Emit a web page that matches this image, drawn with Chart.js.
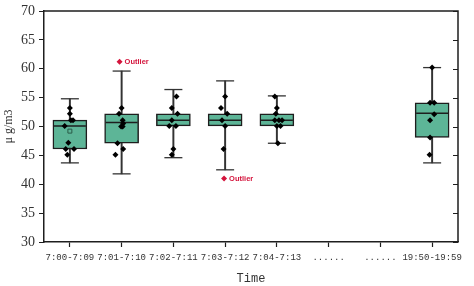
<!DOCTYPE html>
<html>
<head>
<meta charset="utf-8">
<script src="https://cdn.jsdelivr.net/npm/chart.js@4"></script>
<style>
  html, body { margin: 0; padding: 0; background: #fff; }
  #wrap { width: 474px; height: 286px; }
</style>
</head>
<body>
<div id="wrap"><canvas id="chart"></canvas></div>
<script>
// Box plot of concentration per time window
const categories = ['7:00-7:09', '7:01-7:10', '7:02-7:11', '7:03-7:12', '7:04-7:13', '......', '......', '19:50-19:59'];
const whiskerLow  = [43.7, 41.8, 44.6, 42.5, 47.1, null, null, 43.7];
const q1          = [46.1, 47.1, 50.1, 50.1, 50.1, null, null, 48.1];
const medians     = [50.1, 50.7, 51.1, 51.1, 51.1, null, null, 52.3];
const q3          = [51.1, 52.2, 52.2, 52.2, 52.2, null, null, 54.1];
const whiskerHigh = [54.8, 59.6, 56.4, 57.9, 55.3, null, null, 60.2];
const means       = [49.2, null, null, null, null, null, null, null];

// raw samples per window: [x jitter in category units, value]
const samples = [
    [[0, 53.2], [0, 52.2], [0.02, 51.1], [0.06, 51.1], [-0.1, 50.1], [-0.03, 47.2], [-0.08, 46.1], [0.08, 46.1], [-0.05, 45.1]],
    [[0, 53.2], [-0.05, 52.2], [0.02, 51.1], [0.03, 50.5], [0.02, 50.0], [-0.01, 50.0], [-0.08, 47.1], [0.03, 46.1], [-0.12, 45.1]],
    [[0.06, 55.2], [-0.03, 53.2], [0.08, 52.2], [-0.03, 51.1], [-0.08, 50.1], [0.05, 50.1], [0, 46.1], [-0.03, 45.1]],
    [[0, 55.2], [-0.08, 53.2], [0.04, 52.2], [-0.06, 51.1], [0, 50.1], [-0.03, 46.1]],
    [[-0.04, 55.2], [0, 53.2], [-0.02, 52.2], [-0.04, 51.1], [0.04, 51.1], [0.1, 51.1], [0, 50.1], [0.07, 50.1], [0.02, 47.1]],
    [],
    [],
    [[0, 60.2], [-0.04, 54.1], [0.04, 54.1], [0.04, 52.1], [-0.04, 51.1], [-0.04, 48.1], [-0.05, 45.1]],
];
const outliers = [[1, -0.04, 61.2], [3, -0.02, 41.0]];
const outlierLabel = 'Outlier';

const boxColor = '#5DB597';
const ink = '#1e1e1e';
const red = '#d4143c';

const idx = categories.map((_, i) => i).filter(i => q1[i] !== null);

const framePlugin = {
    id: 'frame',
    afterDraw(chart) {
        const { ctx, chartArea: a, scales } = chart;
        const y = scales.y;
        ctx.save();
        ctx.strokeStyle = ink;
        ctx.lineWidth = 1.5;
        ctx.beginPath();
        ctx.moveTo(a.left, a.top);
        ctx.lineTo(a.right, a.top);
        ctx.lineTo(a.right, a.bottom);
        ctx.stroke();
        // inward ticks on the right edge
        ctx.lineWidth = 1;
        ctx.beginPath();
        y.ticks.forEach(t => {
            const py = Math.round(y.getPixelForValue(t.value)) + 0.5;
            ctx.moveTo(a.right, py);
            ctx.lineTo(a.right - (t.value % 5 === 0 ? 5 : 3), py);
        });
        ctx.stroke();
        // outlier labels
        ctx.fillStyle = red;
        ctx.font = 'bold 7.5px "Liberation Sans", Arial, sans-serif';
        ctx.textBaseline = 'middle';
        outliers.forEach(o => {
            ctx.fillText(outlierLabel, scales.x.getPixelForValue(o[0] + o[1]) + 5, y.getPixelForValue(o[2]));
        });
        ctx.restore();
    },
};

new Chart(document.getElementById('chart').getContext('2d'), {
    type: 'bar',
    data: {
        datasets: [
            {
                type: 'scatter',
                data: samples.flatMap((s, i) => s.map(p => ({ x: i + p[0], y: p[1] }))),
                pointStyle: 'rectRot',
                radius: 3,
                hoverRadius: 3,
                backgroundColor: '#000',
                borderWidth: 0,
                order: 0,
            },
            {
                type: 'scatter',
                data: outliers.map(o => ({ x: o[0] + o[1], y: o[2] })),
                pointStyle: 'rectRot',
                radius: 3,
                hoverRadius: 3,
                backgroundColor: red,
                borderWidth: 0,
                order: 0,
            },
            {
                type: 'scatter',
                data: idx.map(i => ({ x: i, y: medians[i] })),
                pointStyle: 'line',
                radius: 16,
                hoverRadius: 16,
                borderColor: ink,
                borderWidth: 1.5,
                order: 1,
            },
            {
                type: 'scatter',
                data: idx.filter(i => means[i] !== null).map(i => ({ x: i, y: means[i] })),
                pointStyle: 'rect',
                radius: 2.8,
                hoverRadius: 2.8,
                backgroundColor: 'rgba(0,0,0,0)',
                borderColor: '#2a5c48',
                borderWidth: 1,
                order: 1,
            },
            {
                type: 'bar',
                data: idx.map(i => ({ x: i, y: [q1[i], q3[i]] })),
                backgroundColor: boxColor,
                borderColor: ink,
                borderWidth: 1.5,
                borderSkipped: false,
                barThickness: 34,
                maxBarThickness: 34,
                grouped: false,
                order: 2,
            },
            {
                type: 'bar',
                data: idx.map(i => ({ x: i, y: [whiskerLow[i], whiskerHigh[i]] })),
                backgroundColor: '#333',
                borderWidth: 0,
                barThickness: 1.3,
                maxBarThickness: 1.3,
                grouped: false,
                order: 3,
            },
            {
                type: 'scatter',
                data: idx.flatMap(i => [{ x: i, y: whiskerLow[i] }, { x: i, y: whiskerHigh[i] }]),
                pointStyle: 'line',
                radius: 9,
                hoverRadius: 9,
                borderColor: '#333',
                borderWidth: 1.3,
                order: 3,
            },
        ],
    },
    options: {
        responsive: true,
        maintainAspectRatio: false,
        animation: false,
        events: [],
        // point radii must not push the plot area inwards
        layout: { autoPadding: false, padding: { top: 11, right: 16, left: 0, bottom: 0 } },
        plugins: {
            legend: { display: false },
            tooltip: { enabled: false },
        },
        scales: {
            x: {
                type: 'linear',
                offset: false,
                min: -0.5,
                max: 7.5,
                afterBuildTicks: (axis) => {
                    axis.ticks = categories.map((_, i) => ({ value: i }));
                },
                afterFit: (scale) => {
                    scale.height = 44;
                    scale.paddingLeft = 0;
                    scale.paddingRight = 0;
                },
                ticks: {
                    callback: (v) => categories[v],
                    autoSkip: false,
                    maxRotation: 0,
                    color: '#333',
                    padding: 5,
                    font: { family: '"Liberation Mono", monospace', size: 9 },
                },
                grid: { drawOnChartArea: false, offset: false, tickLength: 5, tickColor: ink, tickWidth: 1.2 },
                border: { color: ink, width: 1.5 },
                title: {
                    display: true,
                    text: 'Time',
                    color: '#333',
                    padding: { top: 2, bottom: 0 },
                    font: { family: '"Liberation Mono", monospace', size: 12 },
                },
            },
            y: {
                min: 30,
                max: 70,
                afterBuildTicks: (axis) => {
                    const t = [];
                    for (let v = 30; v <= 70; v += 2.5) t.push({ value: v });
                    axis.ticks = t;
                },
                afterFit: (scale) => {
                    scale.width = 44;
                    scale.paddingTop = 0;
                    scale.paddingBottom = 0;
                },
                ticks: {
                    callback: (v) => (v % 5 === 0 ? v : ''),
                    color: '#333',
                    padding: 4,
                    font: { family: '"Liberation Serif", serif', size: 14 },
                },
                grid: { drawOnChartArea: false, tickLength: 5, tickColor: ink, tickWidth: 1 },
                border: { color: ink, width: 1.5 },
                title: {
                    display: true,
                    text: 'μ g/m3',
                    color: '#333',
                    padding: { top: 2, bottom: 0 },
                    font: { family: '"Liberation Serif", serif', size: 12 },
                },
            },
        },
    },
    plugins: [framePlugin],
});
</script>
</body>
</html>
